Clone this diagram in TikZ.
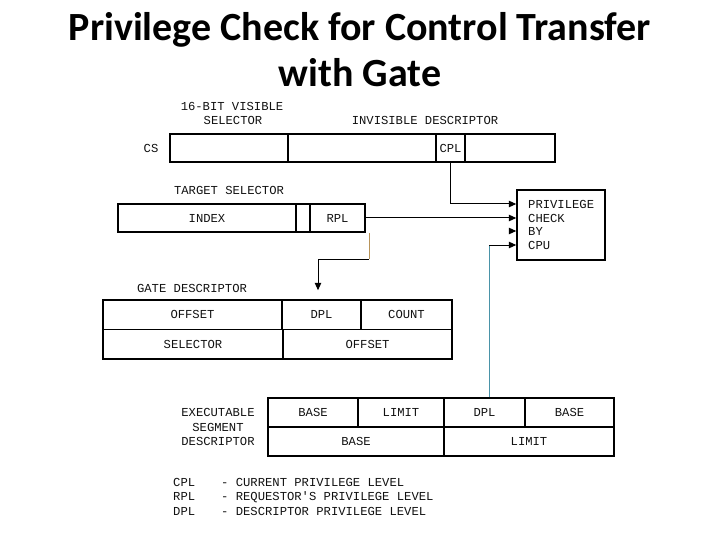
\documentclass[tikz,border=0pt]{standalone}
\usepackage{fontspec}
\setmainfont{Carlito}
\newfontfamily\monofam{Liberation Mono}
\usetikzlibrary{arrows.meta}
\definecolor{txt}{HTML}{111111}
\definecolor{teal1}{HTML}{4A93A8}
\definecolor{tan1}{HTML}{B8945A}
\begin{document}
\begin{tikzpicture}[x=1pt,y=-1pt,
  cell/.style={draw=black, line width=1.5pt, inner sep=0pt, font=\monofam\fontsize{12.2}{13}\selectfont, text=txt},
  lbl/.style={inner sep=0pt, font=\monofam\fontsize{12.2}{13}\selectfont, text=txt},
  ttl/.style={inner sep=0pt, font=\fontsize{40}{46}\selectfont\bfseries, anchor=base},
  arr/.style={-{Triangle[length=7.5pt,width=6.5pt]}, line width=1pt},
  conn/.style={line width=1pt}]
\useasboundingbox (0,0) rectangle (720,540);
% title
\node[ttl] (t1) at (360,41) {Privilege Check for Control Transfer};
\node[ttl] (t2) at (360,87) {with Gate};
% CS register
\node[lbl] (vis1) at (232,106) {16-BIT VISIBLE};
\node[lbl] (vis2) at (233,120) {SELECTOR};
\node[lbl] (inv) at (425,120) {INVISIBLE DESCRIPTOR};
\node[lbl] (cslbl) at (151,148) {CS};
\node[cell, minimum width=118, minimum height=28] (cs1) at (229,148) {};
\node[cell, minimum width=148, minimum height=28] (cs2) at (362,148) {};
\node[cell, minimum width=29, minimum height=28] (cpl) at (450.5,148) {CPL};
\node[cell, minimum width=90, minimum height=28] (cs4) at (510,148) {};
% target selector
\node[lbl] (tslbl) at (229,190) {TARGET SELECTOR};
\node[cell, minimum width=178, minimum height=28] (index) at (207,218) {INDEX};
\node[cell, minimum width=14, minimum height=28] (ti) at (303,218) {};
\node[cell, minimum width=55, minimum height=28] (rpl) at (337.5,218) {RPL};
% privilege check box
\node[draw=black, line width=1.5pt, minimum width=88, minimum height=70, inner sep=0pt] (priv) at (561,225) {};
\node[lbl, anchor=west] (p1) at (528,204) {PRIVILEGE};
\node[lbl, anchor=west] (p2) at (528,218) {CHECK};
\node[lbl, anchor=west] (p3) at (528,231) {BY};
\node[lbl, anchor=west] (p4) at (528,245) {CPU};
\coordinate (in1) at (priv.west |- 0,204);
\coordinate (in2) at (priv.west |- 0,218);
\coordinate (in3) at (priv.west |- 0,231);
\coordinate (in4) at (priv.west |- 0,245);
\coordinate (by0) at (509,231);
% gate descriptor
\node[lbl] (gdlbl) at (192,288) {GATE DESCRIPTOR};
\node[cell, minimum width=179, minimum height=29.5] (goff1) at (192.5,314.75) {OFFSET};
\node[cell, minimum width=79, minimum height=29.5] (gdpl) at (321.5,314.75) {DPL};
\node[cell, minimum width=91, minimum height=29.5] (gcount) at (406.5,314.75) {COUNT};
\node[cell, minimum width=180, minimum height=29.5] (gsel) at (193,344.25) {SELECTOR};
\node[cell, minimum width=169, minimum height=29.5] (goff2) at (367.5,344.25) {OFFSET};
% executable segment descriptor
\node[lbl] (e1) at (218,412) {EXECUTABLE};
\node[lbl] (e2) at (218,427) {SEGMENT};
\node[lbl] (e3) at (218,441) {DESCRIPTOR};
\node[cell, minimum width=90, minimum height=29] (eb1) at (313,412.5) {BASE};
\node[cell, minimum width=86, minimum height=29] (el1) at (401,412.5) {LIMIT};
\node[cell, minimum width=81, minimum height=29] (edpl) at (484.5,412.5) {DPL};
\node[cell, minimum width=89, minimum height=29] (eb2) at (569.5,412.5) {BASE};
\node[cell, minimum width=176, minimum height=29] (eb3) at (356,441.5) {BASE};
\node[cell, minimum width=170, minimum height=29] (el2) at (529,441.5) {LIMIT};
% legend
\node[lbl, anchor=base west] (l1) at (173,486) {CPL};
\node[lbl, anchor=base west] (l2) at (173,500) {RPL};
\node[lbl, anchor=base west] (l3) at (173,515) {DPL};
\node[lbl, anchor=base west] (m1) at (221,486) {- CURRENT PRIVILEGE LEVEL};
\node[lbl, anchor=base west] (m2) at (221,500) {- REQUESTOR'S PRIVILEGE LEVEL};
\node[lbl, anchor=base west] (m3) at (221,515) {- DESCRIPTOR PRIVILEGE LEVEL};
% connectors
\draw[arr] (cpl.south) |- (in1);
\draw[arr] (rpl.east) -- (in2);
\draw[arr] (by0) -- (in3);
\coordinate (cpubend) at (489,245);
\draw[conn, teal1] (edpl.north -| cpubend) -- (cpubend);
\draw[arr] (cpubend) -- (in4);
\coordinate (dstart) at (369,233);
\coordinate (dbend) at (369,259);
\draw[conn, tan1, line width=0.8pt] (dstart) -- (dbend);
\coordinate (dtip) at (gdpl.north -| 318,0);
\draw[arr] (dbend) -| ([yshift=9pt]dtip);
\end{tikzpicture}
\end{document}
